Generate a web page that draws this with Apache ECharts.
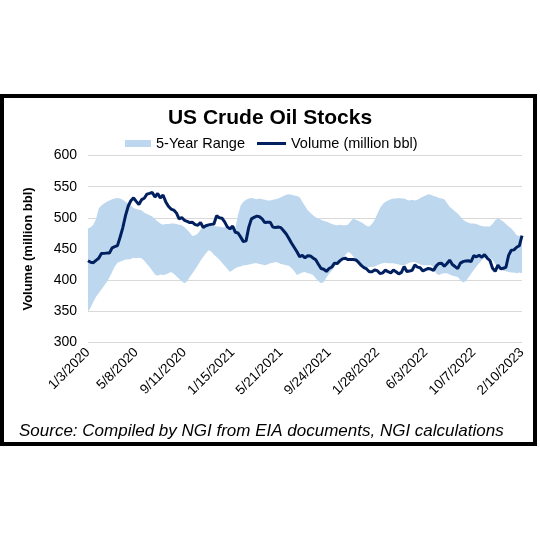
<!DOCTYPE html>
<html>
<head>
<meta charset="utf-8">
<script src="https://cdn.jsdelivr.net/npm/echarts@6/dist/echarts.min.js"></script>
<style>
html,body{margin:0;padding:0;background:#fff;}
#wrap{position:relative;width:540px;height:540px;}
#chart{position:absolute;left:0;top:0;width:540px;height:540px;}
#frame{position:absolute;left:0;top:94px;width:537px;height:352px;box-sizing:border-box;border:4px solid #000;pointer-events:none;}
</style>
</head>
<body>
<div id="wrap"><div id="chart"></div><div id="frame"></div></div>
<script>
// Weekly US crude oil stocks, million bbl (1/3/2020 .. 2/10/2023)
const volume = [
431.1,428.5,428.0,431.7,435.0,442.5,442.9,443.3,443.3,451.8,
453.7,455.4,469.2,484.4,503.6,518.6,527.6,532.2,526.5,521.3,
529.2,531.5,538.1,539.3,540.7,533.5,539.2,531.7,536.6,526.0,
518.6,514.1,512.5,507.8,498.4,500.4,496.0,494.4,492.4,492.9,
489.1,488.1,492.4,484.5,487.3,488.7,489.5,490.2,503.2,500.1,
499.5,493.5,485.5,482.2,486.6,476.7,475.7,469.0,461.8,463.0,
484.6,498.4,500.8,502.7,501.8,498.3,492.4,493.0,493.1,485.1,
484.4,485.3,484.3,479.3,474.0,466.7,459.1,452.3,445.5,437.6,
439.7,435.6,439.2,438.8,435.5,432.6,425.4,418.5,417.4,414.0,
418.5,420.9,427.2,426.5,430.8,434.1,435.1,433.0,433.0,433.0,
432.4,428.3,423.6,420.0,417.9,413.3,413.3,416.2,415.1,410.4,
411.5,416.0,413.4,411.6,415.9,413.4,409.9,412.4,421.8,413.7,
414.4,415.7,424.2,420.8,419.8,414.7,416.8,418.7,417.7,415.6,
422.8,426.7,427.1,422.1,426.6,432.1,425.0,421.7,418.3,427.2,
429.6,430.8,431.0,429.8,439.1,437.4,439.9,436.8,440.8,435.4,
431.7,419.1,413.9,424.1,418.2,419.0,420.6,439.6,448.0,448.5,
452.7,455.1,471.4
];
// 5-year range upper bound
const rangeHigh = [
483,485,489,498,515,520,523,526,528,530,
531,532,531,529,526,523,520,516,514,513,
512,508,506,504,502,498,494,491,489,490,
490,491,491,490,489,488,485,481,476,471,
472,475,481,484,486,488,487,487,486,486,
485,485,485,484,483,483,505,520,526,529,
531,532,531,530,531,530,529,528,528,529,
530,531,533,535,537,538,537,536,535,533,
526,519,512,508,504,501,499,497,495,494,
492,490,489,488,489,488,488,489,494,499,
497,495,493,490,487,486,490,497,506,516,
522,526,528,530,531,531,532,531,531,529,
528,529,528,529,532,534,536,538,537,535,
534,532,531,530,524,518,514,510,507,502,
497,494,492,491,491,490,488,487,486,486,
486,490,496,499,497,494,490,486,483,478,
472,471,470
];
// 5-year range lower bound
const rangeLow = [
349,356,365,373,379,385,391,397,404,413,
422,428,430,431,433,433,434,436,435,436,
435,431,426,421,415,409,407,409,408,409,
411,413,410,406,402,398,395,398,405,411,
417,424,431,437,443,448,446,441,437,433,
428,423,418,413,416,419,421,422,424,424,
425,426,427,427,426,425,424,425,427,428,
429,428,426,425,424,423,419,414,408,410,
412,413,411,410,408,403,398,395,397,404,
410,415,421,427,431,435,440,445,443,438,
432,426,421,419,420,421,421,422,424,426,
427,428,427,427,427,426,425,424,424,426,
428,429,429,427,425,424,424,424,424,420,
410,408,410,411,411,409,407,406,405,400,
396,398,404,410,416,422,427,432,436,437,
436,433,426,420,416,415,414,413,412,412,
411,412,411
];
const tickLabels = ['1/3/2020','5/8/2020','9/11/2020','1/15/2021','5/21/2021','9/24/2021','1/28/2022','6/3/2022','10/7/2022','2/10/2023'];
const yTicks = [300,350,400,450,500,550,600];

// weekly category dates
const categories = [];
{
  let t = Date.UTC(2020,0,3);
  for (let i = 0; i < volume.length; i++) {
    const d = new Date(t + i*7*86400000);
    categories.push((d.getUTCMonth()+1)+'/'+d.getUTCDate()+'/'+d.getUTCFullYear());
  }
}
const rangeSpan = rangeHigh.map((h,i)=> h - rangeLow[i]);

const FONT = '"Liberation Sans", Arial, sans-serif';
const chart = echarts.init(document.getElementById('chart'), null, {renderer:'canvas'});
chart.setOption({
  backgroundColor:'#fff',
  animation:false,
  title:{
    text:'US Crude Oil Stocks',
    left:'center', top:103,
    textStyle:{fontFamily:FONT,fontSize:21,fontWeight:'bold',color:'#000'}
  },
  legend:[{
    left:125, top:136, padding:0,
    itemWidth:26, itemHeight:7,
    textStyle:{fontFamily:FONT,fontSize:14.5,color:'#000'},
    data:[{name:'5-Year Range',icon:'rect'}]
  },{
    left:257, top:136, padding:0,
    itemWidth:29, itemHeight:3,
    textStyle:{fontFamily:FONT,fontSize:14.5,color:'#000'},
    data:[{name:'Volume (million bbl)',icon:'rect'}]
  }],
  grid:{left:88,right:18,top:155.6,bottom:197.7,containLabel:false},
  xAxis:{
    type:'category',
    data:categories,
    boundaryGap:false,
    axisLine:{show:false},
    axisTick:{show:false},
    axisLabel:{
      interval:(idx,val)=>tickLabels.indexOf(val)>=0,
      rotate:45,
      margin:8,
      fontFamily:FONT,fontSize:13.5,color:'#000'
    },
    splitLine:{show:false}
  },
  yAxis:{
    type:'value',
    min:yTicks[0], max:yTicks[yTicks.length-1], interval:50,
    name:'Volume (million bbl)',
    nameLocation:'middle',
    nameGap:53,
    nameTextStyle:{fontFamily:FONT,fontSize:13,fontWeight:'bold',color:'#000'},
    axisLine:{show:false},
    axisTick:{show:false},
    axisLabel:{fontFamily:FONT,fontSize:14,color:'#000',margin:11},
    splitLine:{lineStyle:{color:'#d9d9d9',width:1}}
  },
  series:[
    {
      name:'rangeBase', type:'line', stack:'range', data:rangeLow,
      symbol:'none', lineStyle:{opacity:0}, areaStyle:{opacity:0},
      silent:true, z:1
    },
    {
      name:'5-Year Range', type:'line', stack:'range', data:rangeSpan,
      symbol:'none', lineStyle:{opacity:0},
      itemStyle:{color:'#bdd7ee'},
      areaStyle:{color:'#bdd7ee',opacity:1},
      z:2
    },
    {
      name:'Volume (million bbl)', type:'line', data:volume,
      symbol:'none', showSymbol:false,
      lineStyle:{color:'#002060',width:3},
      itemStyle:{color:'#002060'},
      z:5
    }
  ],
  graphic:[{
    type:'text', left:19, top:423,
    style:{text:'Source: Compiled by NGI from EIA documents, NGI calculations',
      font:'italic 17px "Liberation Sans", Arial, sans-serif', fill:'#000'}
  }]
});
</script>
</body>
</html>
